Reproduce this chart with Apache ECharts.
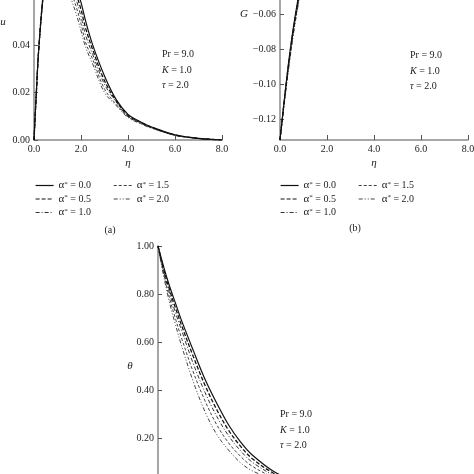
<!DOCTYPE html>
<html>
<head>
<meta charset="utf-8">
<script src="https://cdn.jsdelivr.net/npm/echarts@6/dist/echarts.min.js"></script>
<style>
  html, body { margin: 0; padding: 0; background: #fff; }
  #chart { width: 474px; height: 474px; }
</style>
</head>
<body>
<div id="chart"></div>
<script>
const alphaNames = ['α* = 0.0', 'α* = 0.5', 'α* = 1.0', 'α* = 1.5', 'α* = 2.0'];

// (a) velocity u against eta
const etaU = [0, 0.1, 0.2, 0.4, 0.6, 0.8, 1.0, 1.2, 1.4, 1.6, 1.8, 2.0, 2.2, 2.5, 3.0, 3.5, 4.0, 4.5, 5.0, 6.0, 7.0, 8.0];
const uA00 = [0, 0.020, 0.038, 0.062, 0.076, 0.083, 0.084, 0.082, 0.076, 0.070, 0.064, 0.058, 0.050, 0.040, 0.027, 0.017, 0.0108, 0.0078, 0.0055, 0.0022, 0.0007, 0];
const uA05 = [0, 0.020, 0.038, 0.062, 0.0752, 0.0815, 0.082, 0.0795, 0.0735, 0.0675, 0.0615, 0.055, 0.047, 0.038, 0.025, 0.0165, 0.0104, 0.0076, 0.0054, 0.0021, 0.0007, 0];
const uA10 = [0, 0.020, 0.038, 0.0615, 0.0745, 0.080, 0.080, 0.077, 0.071, 0.065, 0.059, 0.052, 0.044, 0.036, 0.0235, 0.016, 0.0100, 0.0074, 0.0052, 0.0021, 0.0006, 0];
const uA15 = [0, 0.020, 0.038, 0.061, 0.074, 0.0785, 0.078, 0.0745, 0.0685, 0.062, 0.056, 0.049, 0.041, 0.034, 0.0215, 0.015, 0.0098, 0.0072, 0.0051, 0.0020, 0.0006, 0];
const uA20 = [0, 0.020, 0.038, 0.061, 0.073, 0.077, 0.076, 0.072, 0.066, 0.059, 0.053, 0.046, 0.039, 0.032, 0.020, 0.0145, 0.0095, 0.0070, 0.0050, 0.0020, 0.0006, 0];

// (b) G against eta
const etaG = [0, 0.2, 0.4, 0.6, 0.8, 1.0, 1.5, 2.0, 3.0, 4.0, 6.0, 8.0];
const gA00 = [-0.132, -0.107, -0.084, -0.065, -0.049, -0.035, -0.019, -0.010, -0.004, -0.001, 0, 0];
const gA05 = [-0.132, -0.1075, -0.085, -0.066, -0.050, -0.036, -0.020, -0.011, -0.004, -0.001, 0, 0];
const gA10 = [-0.132, -0.108, -0.086, -0.067, -0.051, -0.037, -0.021, -0.011, -0.004, -0.001, 0, 0];
const gA15 = [-0.132, -0.1085, -0.087, -0.068, -0.052, -0.038, -0.021, -0.012, -0.005, -0.001, 0, 0];
const gA20 = [-0.132, -0.109, -0.088, -0.069, -0.053, -0.039, -0.022, -0.012, -0.005, -0.001, 0, 0];

// (c) theta against eta
const etaT = [0, 0.25, 0.5, 0.75, 1.0, 1.5, 2.0, 2.5, 3.0, 3.5, 4.0, 5.0, 6.0, 7.0, 8.0];
const tA00 = [1, 0.91, 0.83, 0.76, 0.69, 0.565, 0.445, 0.345, 0.255, 0.185, 0.130, 0.056, 0.020, 0.006, 0];
const tA05 = [1, 0.90, 0.815, 0.74, 0.67, 0.54, 0.42, 0.318, 0.233, 0.167, 0.115, 0.049, 0.017, 0.005, 0];
const tA10 = [1, 0.89, 0.80, 0.72, 0.65, 0.51, 0.39, 0.29, 0.21, 0.148, 0.100, 0.042, 0.014, 0.004, 0];
const tA15 = [1, 0.88, 0.78, 0.695, 0.617, 0.475, 0.355, 0.255, 0.18, 0.125, 0.083, 0.034, 0.011, 0.003, 0];
const tA20 = [1, 0.87, 0.76, 0.67, 0.585, 0.435, 0.31, 0.215, 0.15, 0.098, 0.064, 0.025, 0.008, 0.002, 0];

const xTicks = [0, 2, 4, 6, 8];

const SERIF = 'Liberation Serif';
const AXIS_COLOR = '#8a8a8a';
const TEXT_COLOR = '#222';

// line look for each alpha
const lineLooks = [
  { type: 'solid', width: 1.2, color: '#111' },
  { type: [4, 2], width: 1.3, color: '#111' },
  { type: [4, 2, 1, 2], width: 1, color: '#333' },
  { type: [3, 2], width: 1, color: '#444' },
  { type: [4, 2, 1, 2, 1, 2], width: 1, color: '#444' }
];

function pairs(xs, ys) {
  return xs.map((x, i) => [x, ys[i]]);
}

function makeSeries(idx, xs, list) {
  return list.map((ys, k) => ({
    name: alphaNames[k],
    type: 'line',
    xAxisIndex: idx,
    yAxisIndex: idx,
    data: pairs(xs, ys),
    symbol: 'none',
    showSymbol: false,
    smooth: 0.35,
    z: 10 - k,
    lineStyle: lineLooks[k],
    itemStyle: { color: lineLooks[k].color }
  }));
}

function xAxisFor(idx) {
  return {
    gridIndex: idx,
    type: 'value',
    min: xTicks[0],
    max: xTicks[xTicks.length - 1],
    interval: 2,
    axisLine: { lineStyle: { color: AXIS_COLOR, width: 1.5 } },
    axisTick: { inside: true, length: 5, lineStyle: { color: '#555' } },
    splitLine: { show: false },
    axisLabel: {
      margin: 4, color: TEXT_COLOR, fontFamily: SERIF, fontSize: 10,
      hideOverlap: false,
      formatter: v => v.toFixed(1)
    }
  };
}

function yAxisFor(idx, extra, showMin, showMax) {
  return Object.assign({
    gridIndex: idx,
    type: 'value',
    axisLine: { show: true, lineStyle: { color: AXIS_COLOR, width: 1.5 } },
    axisTick: { show: true, inside: true, length: 4, lineStyle: { color: '#555' } },
    splitLine: { show: false },
    axisLabel: {
      margin: 4, color: TEXT_COLOR, fontFamily: SERIF, fontSize: 10,
      showMinLabel: showMin, showMaxLabel: showMax,
      formatter: v => v.toFixed(2).replace('-', '\u2212')
    }
  }, extra);
}

function label(x, y, text, opt) {
  opt = opt || {};
  const rich = {
    i: { fontStyle: 'italic', fontFamily: SERIF, fontSize: opt.size || 10, fill: TEXT_COLOR }
  };
  return {
    type: 'text',
    x: x,
    y: y,
    silent: true,
    style: {
      text: text,
      fontFamily: SERIF,
      fontSize: opt.size || 10,
      fontStyle: opt.italic ? 'italic' : 'normal',
      fill: TEXT_COLOR,
      textAlign: opt.align || 'left',
      textVerticalAlign: 'middle',
      align: opt.align || 'left',
      verticalAlign: 'middle',
      rich: rich
    }
  };
}

function legendFor(left, top) {
  return {
    left: left,
    top: top,
    orient: 'vertical',
    height: 40,
    padding: 0,
    itemWidth: 18,
    itemHeight: 10,
    itemGap: 2.5,
    selectedMode: false,
    data: alphaNames,
    itemStyle: { opacity: 0, borderWidth: 0 },
    lineStyle: { width: 1.2, type: 'inherit' },
    formatter: name => name.replace('α*', '{g|α}{s|*}'),
    textStyle: {
      color: TEXT_COLOR, fontFamily: SERIF, fontSize: 10, width: 52, lineHeight: 10,
      rich: {
        g: { fontFamily: SERIF, fontSize: 11, color: TEXT_COLOR, lineHeight: 10 },
        s: { fontFamily: SERIF, fontSize: 7, color: TEXT_COLOR, lineHeight: 10, verticalAlign: 'top' }
      }
    }
  };
}

const chart = echarts.init(document.getElementById('chart'));

chart.setOption({
  backgroundColor: '#fff',
  animation: false,
  grid: [
    { left: 34, top: 0, width: 188, height: 140, outerBoundsMode: 'none', containLabel: false },
    { left: 280, top: 0, width: 188, height: 140, outerBoundsMode: 'none', containLabel: false },
    { left: 158, top: 246, width: 188, height: 240, outerBoundsMode: 'none', containLabel: false }
  ],
  xAxis: [xAxisFor(0), xAxisFor(1), xAxisFor(2)],
  yAxis: [
    yAxisFor(0, { min: 0, max: 0.059, interval: 0.02 }, true, false),
    yAxisFor(1, { min: -0.132, max: -0.052, splitNumber: 4 }, false, false),
    yAxisFor(2, { min: 0, max: 1.0, interval: 0.2 }, true, true)
  ],
  legend: [legendFor(35, 180), legendFor(280, 180)],
  series: [].concat(
    makeSeries(0, etaU, [uA00, uA05, uA10, uA15, uA20]),
    makeSeries(1, etaG, [gA00, gA05, gA10, gA15, gA20]),
    makeSeries(2, etaT, [tA00, tA05, tA10, tA15, tA20])
  ),
  graphic: [
    label(3, 22, 'u', { italic: true, size: 11, align: 'center' }),
    label(128, 163, 'η', { italic: true, size: 11, align: 'center' }),
    label(162, 54, 'Pr = 9.0'),
    label(162, 70, '{i|K} = 1.0'),
    label(162, 85, '{i|τ} = 2.0'),
    label(110, 230, '(a)', { align: 'center' }),

    label(244, 14, 'G', { italic: true, size: 11, align: 'center' }),
    label(374, 163, 'η', { italic: true, size: 11, align: 'center' }),
    label(410, 55, 'Pr = 9.0'),
    label(410, 71, '{i|K} = 1.0'),
    label(410, 86, '{i|τ} = 2.0'),
    label(355, 228, '(b)', { align: 'center' }),

    label(130, 366, 'θ', { italic: true, size: 11, align: 'center' }),
    label(280, 414, 'Pr = 9.0'),
    label(280, 430, '{i|K} = 1.0'),
    label(280, 445, '{i|τ} = 2.0')
  ]
});
</script>
</body>
</html>
